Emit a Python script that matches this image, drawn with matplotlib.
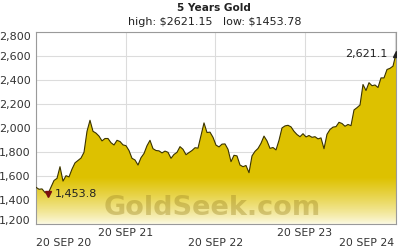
import numpy as np
import pandas as pd
import matplotlib
matplotlib.use("Agg")
import matplotlib.pyplot as plt
import matplotlib.dates as mdates
from matplotlib.ticker import FuncFormatter

# ---- data ----
start_date = "2020-09-20"
end_date = "2024-09-26"
prices = [
    1508, 1492, 1495, 1465, 1453.78, 1510, 1565, 1583, 1680, 1560,
    1605, 1595, 1660, 1712, 1732, 1752, 1800, 1975, 2067, 1975,
    1960, 1935, 1895, 1915, 1915, 1880, 1861, 1900, 1890, 1862,
    1855, 1815, 1750, 1736, 1694, 1755, 1790, 1855, 1900, 1830,
    1815, 1812, 1795, 1810, 1800, 1750, 1782, 1800, 1847, 1825,
    1780, 1798, 1815, 1838, 1835, 1940, 2045, 1965, 1968, 1925,
    1860, 1845, 1868, 1870, 1825, 1722, 1775, 1770, 1694, 1680,
    1690, 1630, 1770, 1808, 1832, 1875, 1935, 1895, 1833, 1840,
    1820, 1900, 2003, 2020, 2025, 2012, 1975, 1948, 1930, 1955,
    1928, 1940, 1925, 1930, 1912, 1920, 1830, 1950, 1990, 2010,
    2014, 2050, 2040, 2017, 2032, 2022, 2153, 2172, 2194, 2365,
    2315, 2380, 2355, 2361, 2340, 2420, 2420, 2490, 2500, 2518,
    2621.15,
]
tick_dates = ["2020-09-20", "2021-09-20", "2022-09-20", "2023-09-20", "2024-09-20"]
tick_labels = ["20 SEP 20", "20 SEP 21", "20 SEP 22", "20 SEP 23", "20 SEP 24"]
y_ticks = [1200, 1400, 1600, 1800, 2000, 2200, 2400, 2600, 2800]
title = "5 Years Gold"

dates = pd.date_range(start_date, end_date, periods=len(prices))
x = mdates.date2num(dates)
p = np.array(prices, dtype=float)
hi_i = int(np.argmax(p))
lo_i = int(np.argmin(p))

fig = plt.figure(figsize=(4, 2.5), dpi=100)
fig.patch.set_facecolor("white")
ax = fig.add_axes([0.09, 0.1028, 0.90, 0.768])
ax.set_xlim(x[0], x[-1])
ax.set_ylim(1200, 2800)

# grid
ax.set_yticks(y_ticks)
tx = mdates.date2num(pd.to_datetime(tick_dates))
ax.set_xticks(tx)
ax.grid(True, color="#dcdcdc", linewidth=0.8, zorder=0)
ax.set_axisbelow(True)
ax.tick_params(axis="both", length=0, colors="#333333", labelsize=8)
ax.tick_params(axis="x", labelbottom=False)
ax.yaxis.set_major_formatter(FuncFormatter(lambda v, _: f"{int(v):,}"))
ax.tick_params(axis="y", pad=4)
for s in ax.spines.values():
    s.set_color("#9a9a9a")
    s.set_linewidth(0.8)

# gradient fill
poly = ax.fill_between(x, p, 1200, color="none", zorder=2)
ny = 256
vals = np.linspace(0, 1, ny)  # 0 bottom -> 1 top
top_c = np.array([0.87, 0.76, 0.0])
bot_c = np.array([0.99, 0.98, 0.90])
frac = np.clip(vals / 0.24, 0, 1) ** 0.8
cols = bot_c[None, :] * (1 - frac[:, None]) + top_c[None, :] * frac[:, None]
img = np.repeat(cols[:, None, :], 2, axis=1)
im = ax.imshow(img, extent=[x[0], x[-1], 1200, 2800], origin="lower",
               aspect="auto", zorder=2, interpolation="bilinear")
im.set_clip_path(poly.get_paths()[0], transform=ax.transData)
ax.set_xlim(x[0], x[-1])
ax.set_ylim(1200, 2800)

ax.plot(x, p, color="#3a3300", linewidth=0.8, zorder=3)

# watermark
ax.text(0.49, 0.085, "GoldSeek.com", transform=ax.transAxes, ha="center",
        va="center", fontsize=19.5, fontweight="bold", color="#9c8420",
        alpha=0.38, zorder=4)

# markers / annotations
ax.plot(x[lo_i], p[lo_i], marker="v", color="#7a1010", markersize=5, zorder=5,
        clip_on=False)
ax.annotate(f"{p[lo_i]:,.1f}", (x[lo_i], p[lo_i]), xytext=(5, 0),
            textcoords="offset points", ha="left", va="center", fontsize=8,
            color="#222222", zorder=5)
ax.plot(x[hi_i], p[hi_i], marker="^", color="#222222", markersize=4, zorder=5)
ax.annotate(f"{int(p[hi_i]*10)/10:,.1f}", (x[hi_i], p[hi_i]), xytext=(-6, 0),
            textcoords="offset points", ha="right", va="center", fontsize=8,
            color="#222222", zorder=5)

# y labels: keep first/last inside the frame
fig.canvas.draw()
ylabs = ax.get_yticklabels()
ylabs[0].set_va("baseline")
ylabs[-1].set_va("top")

# x labels (alternating rows)
trans = ax.get_xaxis_transform()
for i, (t, lab) in enumerate(zip(tx, tick_labels)):
    ha = "center"
    if i == 0:
        ha = "left"
    elif i == len(tick_labels) - 1:
        ha = "right"
    yoff = -0.045 if i % 2 == 1 else -0.10
    ax.text(t, yoff, lab, transform=trans, ha=ha, va="center", fontsize=7.8,
            color="#333333", clip_on=False)

# titles
fig.text(0.535, 0.968, title, ha="center", va="center", fontsize=7.6,
         fontweight="bold", color="#222222")
fig.text(0.538, 0.912, f"high: ${max(prices):.2f}   low: ${min(prices):.2f}",
         ha="center", va="center", fontsize=8, color="#222222", parse_math=False)

fig.savefig("out.png", dpi=100, facecolor="white")
